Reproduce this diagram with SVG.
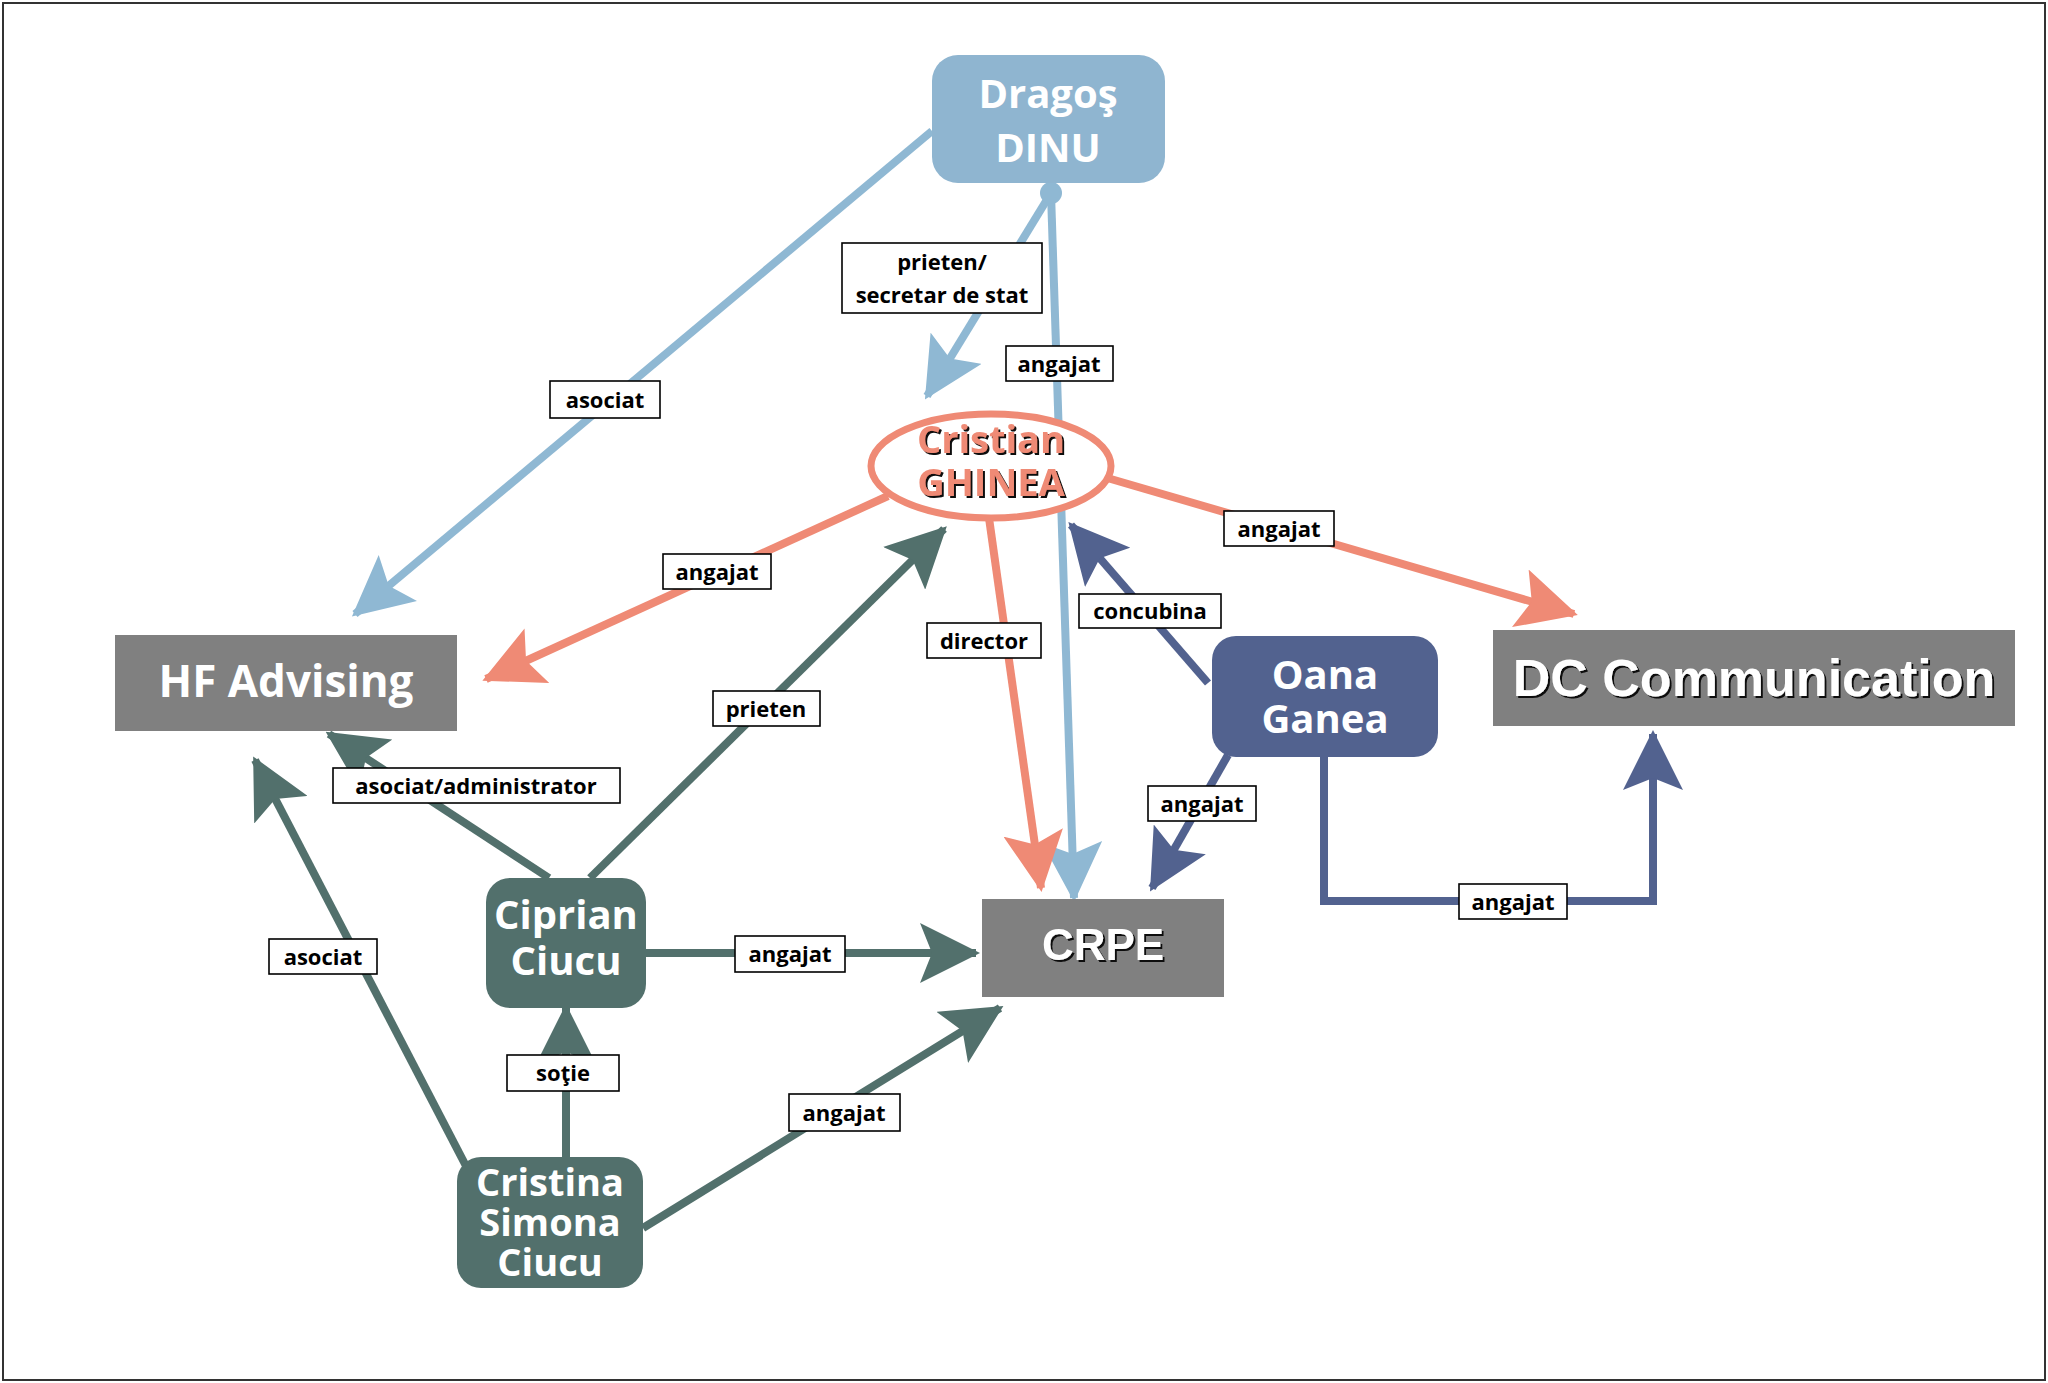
<svg xmlns="http://www.w3.org/2000/svg" width="2048" height="1383" viewBox="0 0 2048 1383">
<style>
.lb rect{fill:#fff;stroke:#000;stroke-width:1.6}
.lb text{font-family:"Open Sans","Liberation Sans",sans-serif;font-weight:bold;font-size:22px;fill:#000;text-anchor:middle}
.nt{font-family:"Open Sans","Liberation Sans",sans-serif;font-weight:bold;fill:#fff;text-anchor:middle}
.ar{font-family:"Liberation Sans",Arial,sans-serif;font-weight:bold;text-anchor:middle;fill:#fff;filter:url(#sh)}
.c{fill:none;stroke-width:8}
.lt{stroke:#8fb8d3}.sa{stroke:#ef8a75}.db{stroke:#52628f}.dg{stroke:#52706c}
</style>
<defs>
<filter id="sh" x="-5%" y="-20%" width="110%" height="140%"><feDropShadow dx="2" dy="2" stdDeviation="0.5" flood-color="#111" flood-opacity="1"/></filter>
<marker id="mLt" markerUnits="userSpaceOnUse" markerWidth="60" markerHeight="60" refX="56" refY="30" orient="auto"><path d="M0,0 L60,30 L0,60 L12,30 z" fill="#8fb8d3"/></marker>
<marker id="mSa" markerUnits="userSpaceOnUse" markerWidth="60" markerHeight="60" refX="56" refY="30" orient="auto"><path d="M0,0 L60,30 L0,60 L12,30 z" fill="#ef8a75"/></marker>
<marker id="mDb" markerUnits="userSpaceOnUse" markerWidth="60" markerHeight="60" refX="56" refY="30" orient="auto"><path d="M0,0 L60,30 L0,60 L12,30 z" fill="#52628f"/></marker>
<marker id="mDg" markerUnits="userSpaceOnUse" markerWidth="60" markerHeight="60" refX="56" refY="30" orient="auto"><path d="M0,0 L60,30 L0,60 L12,30 z" fill="#52706c"/></marker>
</defs>
<rect x="0" y="0" width="2048" height="1383" fill="#fff"/>
<rect x="3" y="3" width="2042" height="1377" fill="none" stroke="#333" stroke-width="2"/>
<g id="connectors">
<path class="c lt" d="M932,131 L355,614" marker-end="url(#mLt)"/>
<path class="c lt" d="M1051,193 L927,396" marker-end="url(#mLt)"/>
<path class="c lt" d="M1051,193 L1074,898" marker-end="url(#mLt)"/>
<circle cx="1051" cy="193" r="11" fill="#8fb8d3"/>
<path class="c sa" d="M888,496 L486,679" marker-end="url(#mSa)"/>
<path class="c sa" d="M989,518 L1041,888" marker-end="url(#mSa)"/>
<path class="c sa" d="M1104,477 L1574,614" marker-end="url(#mSa)"/>
<path class="c db" d="M1208,683 L1071,525" marker-end="url(#mDb)"/>
<path class="c db" d="M1228,755 L1152,888" marker-end="url(#mDb)"/>
<path class="c db" d="M1324,757 L1324,901 L1653,901 L1653,734" marker-end="url(#mDb)"/>
<path class="c dg" d="M549,878 L329,734" marker-end="url(#mDg)"/>
<path class="c dg" d="M590,878 L944,529" marker-end="url(#mDg)"/>
<path class="c dg" d="M646,953 L976,953" marker-end="url(#mDg)"/>
<path class="c dg" d="M566,1157 L566,1008" marker-end="url(#mDg)"/>
<path class="c dg" d="M466,1166 L255,760" marker-end="url(#mDg)"/>
<path class="c dg" d="M643,1228 L1000,1008" marker-end="url(#mDg)"/>
<g class="lb">
<rect x="550" y="381" width="110" height="37"/><text x="605" y="408">asociat</text>
<rect x="842" y="243" width="200" height="70"/><text x="942" y="270">prieten/</text><text x="942" y="303">secretar de stat</text>
<rect x="1006" y="346" width="107" height="35"/><text x="1059" y="372">angajat</text>
<rect x="663" y="554" width="108" height="35"/><text x="717" y="580">angajat</text>
<rect x="927" y="623" width="114" height="35"/><text x="984" y="649">director</text>
<rect x="1224" y="511" width="110" height="35"/><text x="1279" y="537">angajat</text>
<rect x="1079" y="594" width="142" height="34"/><text x="1150" y="619">concubina</text>
<rect x="1148" y="786" width="108" height="35"/><text x="1202" y="812">angajat</text>
<rect x="1459" y="884" width="108" height="35"/><text x="1513" y="910">angajat</text>
<rect x="333" y="768" width="287" height="35"/><text x="476" y="794">asociat/administrator</text>
<rect x="713" y="691" width="107" height="35"/><text x="766" y="717">prieten</text>
<rect x="735" y="936" width="110" height="36"/><text x="790" y="962">angajat</text>
<rect x="507" y="1055" width="112" height="36"/><text x="563" y="1081">soţie</text>
<rect x="269" y="939" width="108" height="35"/><text x="323" y="965">asociat</text>
<rect x="789" y="1094" width="111" height="37"/><text x="844" y="1121">angajat</text>
</g>
</g>
<g id="dragos"><rect x="932" y="55" width="233" height="128" rx="26" fill="#8fb5d0"/><text class="nt" font-size="40" x="1048" y="108">Dragoş</text><text class="nt" font-size="40" x="1048" y="162">DINU</text></g>
<g id="ghinea"><ellipse cx="991" cy="466" rx="120" ry="52" fill="#fff" stroke="#ef8a75" stroke-width="7"/>
<g font-family="'Open Sans','Liberation Sans',sans-serif" font-weight="bold" font-size="38" text-anchor="middle" fill="#ef8a75" filter="url(#sh)"><text x="991" y="453">Cristian</text><text x="991" y="496">GHINEA</text></g></g>
<g id="hf"><rect x="115" y="635" width="342" height="96" fill="#808080"/><text class="nt" font-size="44" x="286" y="697">HF Advising</text></g>
<g id="dc"><rect x="1493" y="630" width="522" height="96" fill="#808080"/><text class="ar" font-size="52" x="1754" y="696">DC Communication</text></g>
<g id="crpe"><rect x="982" y="899" width="242" height="98" fill="#808080"/><text class="ar" font-size="44" x="1103" y="960">CRPE</text></g>
<g id="oana"><rect x="1212" y="636" width="226" height="121" rx="24" fill="#52628f"/><text class="nt" font-size="40" x="1325" y="689">Oana</text><text class="nt" font-size="40" x="1325" y="733">Ganea</text></g>
<g id="ciprian"><rect x="486" y="878" width="160" height="130" rx="24" fill="#52706c"/><text class="nt" font-size="40" x="566" y="929">Ciprian</text><text class="nt" font-size="40" x="566" y="975">Ciucu</text></g>
<g id="cristina"><rect x="457" y="1157" width="186" height="131" rx="24" fill="#52706c"/><text class="nt" font-size="38" x="550" y="1196">Cristina</text><text class="nt" font-size="38" x="550" y="1236">Simona</text><text class="nt" font-size="38" x="550" y="1276">Ciucu</text></g>
</svg>
